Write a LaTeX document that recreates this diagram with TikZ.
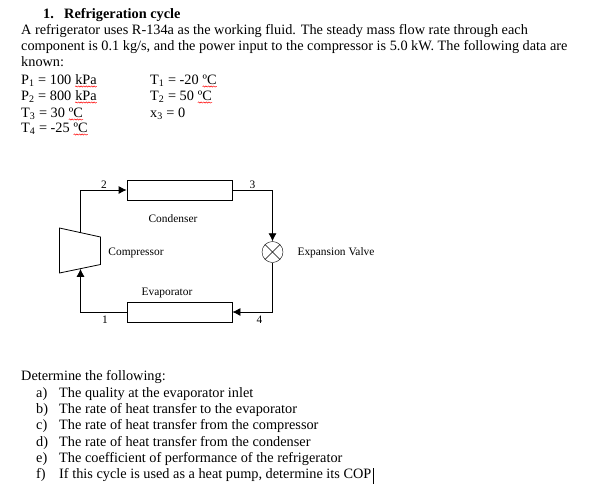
\documentclass[tikz,border=0pt]{standalone}
\usepackage{fontspec}
\setmainfont{Liberation Serif}
\usetikzlibrary{calc,positioning,arrows.meta,decorations.pathmorphing}
\tikzset{
  txt/.style={anchor=base west,inner sep=0pt,font=\fontsize{14.3}{16}\selectfont},
  lbl/.style={inner sep=0pt,font=\fontsize{11.4}{12}\selectfont},
  box/.style={draw,line width=.8pt,minimum width=105pt,minimum height=20pt,inner sep=0pt},
  flow/.style={-{Latex[length=8pt,width=8pt]},line width=.8pt},
  wavy/.style={red,line width=.5pt,decorate,decoration={snake,amplitude=.6pt,segment length=2.6pt}}
}
\newcommand{\spell}[1]{\draw[wavy] ([yshift=-2.5pt]#1.base west) -- ([yshift=-2.5pt]#1.base east);}
\begin{document}
\begin{tikzpicture}[x=1pt,y=-1pt]
  \useasboundingbox (0,0) rectangle (602,485);
  % heading and problem text
  \node[txt] (num)   at (43,18) {\textbf{1.}};
  \node[txt] (title) at (64,18) {\textbf{Refrigeration cycle}};
  \node[txt] (l_1) at (21,34) {A refrigerator uses R-134a as the working fluid. The steady mass flow rate through each};
  \node[txt] (l_2) at (21,50) {component is 0.1 kg/s, and the power input to the compressor is 5.0 kW. The following data are};
  \node[txt] (l_3) at (21,66) {known:};
  % known data
  \node[txt] (p_1) at (21,84)  {P\textsubscript{1} = 100};
  \node[txt,xshift=3.6pt] (u_1) at (p_1.base east) {kPa};
  \node[txt] (p_2) at (21,100) {P\textsubscript{2} = 800};
  \node[txt,xshift=3.6pt] (u_2) at (p_2.base east) {kPa};
  \node[txt] (t_3) at (21,117) {T\textsubscript{3} = 30};
  \node[txt,xshift=3.6pt] (u_3) at (t_3.base east) {ºC};
  \node[txt] (t_4) at (21,132) {T\textsubscript{4} = -25};
  \node[txt,xshift=3.6pt] (u_4) at (t_4.base east) {ºC};
  \node[txt] (t_1) at (150,84)  {T\textsubscript{1} = -20};
  \node[txt,xshift=3.6pt] (u_5) at (t_1.base east) {ºC};
  \node[txt] (t_2) at (150,100) {T\textsubscript{2} = 50};
  \node[txt,xshift=3.6pt] (u_6) at (t_2.base east) {ºC};
  \node[txt] (x_3) at (150,117) {x\textsubscript{3} = 0};
  \spell{u_1} \spell{u_2} \spell{u_3} \spell{u_4} \spell{u_5} \spell{u_6}
  % cycle
  \node[box] (cond) at (179.5,190) {};
  \node[box] (evap) at (179.5,312) {};
  \node[draw,circle,minimum size=21pt,inner sep=0pt] (valve) at (272.5,252) {};
  \draw (valve.north west) -- (valve.south east);
  \draw (valve.north east) -- (valve.south west);
  \coordinate (c_1) at (59.5,228);
  \coordinate (c_2) at (100.5,237);
  \coordinate (c_3) at (100.5,264.5);
  \coordinate (c_4) at (59.5,273);
  \coordinate (c_top) at (80.5,232.5);
  \coordinate (c_bot) at (80.5,268.8);
  \draw[line width=.8pt] (c_1) -- (c_2) -- (c_3) -- (c_4) -- cycle;
  \draw[flow] (c_top) |- (cond.west);
  \draw[flow] (cond.east) -| (valve.north);
  \draw[flow] (valve.south) |- (evap.east);
  \draw[flow] (evap.west) -| (c_bot);
  % labels
  \node[lbl] (n_2) at (104,185) {2};
  \node[lbl] (n_3) at (252.5,185) {3};
  \node[lbl] (n_4) at (259.5,320) {4};
  \node[lbl] (n_1) at (105,320) {1};
  \node[lbl] (condlbl) at (173,218.5) {Condenser};
  \node[lbl] (evaplbl) at (167,293) {Evaporator};
  \node[lbl] (complbl) at (136,253) {Compressor};
  \node[lbl] (valvelbl) at (336,253) {Expansion Valve};
  % questions
  \node[txt] (det) at (21,380) {Determine the following:};
  \node[txt] (a_1) at (36,397) {a)};
  \node[txt] (a_2) at (59,397) {The quality at the evaporator inlet};
  \node[txt] (b_1) at (36,413) {b)};
  \node[txt] (b_2) at (59,413) {The rate of heat transfer to the evaporator};
  \node[txt] (c_a) at (36,429) {c)};
  \node[txt] (c_b) at (59,429) {The rate of heat transfer from the compressor};
  \node[txt] (d_1) at (36,446) {d)};
  \node[txt] (d_2) at (59,446) {The rate of heat transfer from the condenser};
  \node[txt] (e_1) at (36,462) {e)};
  \node[txt] (e_2) at (59,462) {The coefficient of performance of the refrigerator};
  \node[txt] (f_1) at (36,478) {f)};
  \node[txt] (f_2) at (59,478) {If this cycle is used as a heat pump, determine its COP};
  \coordinate (cur_a) at (373.5,468);
  \coordinate (cur_b) at (373.5,484);
  \draw[line width=.8pt] (cur_a) -- (cur_b);
\end{tikzpicture}
\end{document}
